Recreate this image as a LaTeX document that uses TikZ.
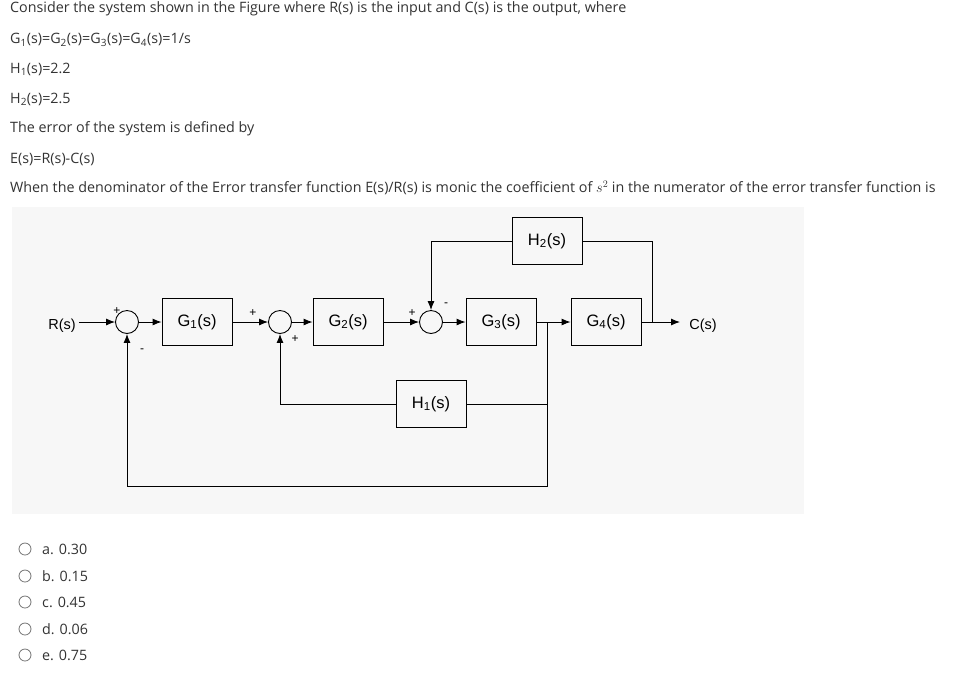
\documentclass[tikz,border=0pt]{standalone}
\usepackage{fontspec}
\setmainfont{Open Sans}
\newfontfamily\arialf{Liberation Sans}
\usetikzlibrary{arrows.meta}
\definecolor{txt}{HTML}{333333}
\begin{document}
\begin{tikzpicture}[x=1pt,y=-1pt,
  q/.style={anchor=west,font=\fontsize{14.3}{16}\selectfont,text=txt,inner sep=0},
  blk/.style={draw,line width=0.9pt,minimum width=70pt,minimum height=47pt,inner sep=0,font=\arialf\fontsize{16.5}{18}\selectfont},
  sumc/.style={draw,line width=0.9pt,circle,minimum size=23pt,inner sep=0},
  sig/.style={-{Latex[length=9pt,width=7pt]},line width=0.9pt},
  ln/.style={line width=0.9pt},
  sg/.style={font=\arialf\fontsize{12}{13}\selectfont,inner sep=0},
  lab/.style={font=\arialf\fontsize{14.5}{16}\selectfont,inner sep=0}]
\useasboundingbox (0,0) rectangle (971,681);
\fill[white] (0,0) rectangle (971,681);
\node[q] (t1) at (10,9) {Consider the system shown in the Figure where R(s) is the input and C(s) is the output, where};
\node[q] (t2) at (10,40) {G\textsubscript{1}(s)=G\textsubscript{2}(s)=G\textsubscript{3}(s)=G\textsubscript{4}(s)=1/s};
\node[q] (t3) at (10,69) {H\textsubscript{1}(s)=2.2};
\node[q] (t4) at (10,99) {H\textsubscript{2}(s)=2.5};
\node[q] (t5) at (10,129) {The error of the system is defined by};
\node[q] (t6) at (10,159) {E(s)=R(s)-C(s)};
\node[q] (t7) at (10,188) {When the denominator of the Error transfer function E(s)/R(s) is monic the coefficient of $s^2$ in the numerator of the error transfer function is};
\fill[black!3] (12,207) rectangle (804,514);
% blocks
\node[blk] (g1) at (197,322) {G\textsubscript{1}(s)};
\node[blk] (g2) at (348,322) {G\textsubscript{2}(s)};
\node[blk] (g3) at (501,322) {G\textsubscript{3}(s)};
\node[blk] (g4) at (606,322) {G\textsubscript{4}(s)};
\node[blk] (h2) at (547,241) {H\textsubscript{2}(s)};
\node[blk] (h1) at (431,404) {H\textsubscript{1}(s)};
\node[sumc] (s1) at (127,322) {};
\node[sumc] (s2) at (280,322) {};
\node[sumc] (s3) at (431,322) {};
\node[lab] (r) at (62,326) {R(s)};
\node[lab] (c) at (703,326) {C(s)};
\coordinate (out) at (680,322);
\coordinate (b34) at (547,322);
\coordinate (t4o) at (652,322);
% forward
\draw[sig] (r.east)++(3,-4) -- (s1.west);
\draw[sig] (s1) -- (g1);
\draw[sig] (g1) -- (s2);
\draw[sig] (s2) -- (g2);
\draw[sig] (g2) -- (s3);
\draw[sig] (s3) -- (g3);
\draw[sig] (g3) -- (g4);
\draw[sig] (g4) -- (out);
% H2 loop
\draw[ln] (t4o) |- (h2.east);
\draw[sig] (h2.west) -| (s3.north);
% H1 loop
\draw[ln] (b34) |- (h1.east);
\draw[sig] (h1.west) -| (s2.south);
% unity loop
\draw[sig] (b34) -- (547,486) -| (s1.south);
% signs
\node[sg] at (117,311) {+};
\node[sg] at (142,351) {-};
\node[sg] at (253,313) {+};
\node[sg] at (295,339) {+};
\node[sg] at (412,313) {+};
\node[sg] at (446,305) {-};
% options
\foreach \y/\t in {549/a. 0.30,576/b. 0.15,602/c. 0.45,629/d. 0.06,655/e. 0.75}{
  \draw[black!55,line width=0.8pt] (25,\y) circle (6pt);
  \node[q] at (42,\y) {\t};
}
\end{tikzpicture}
\end{document}
